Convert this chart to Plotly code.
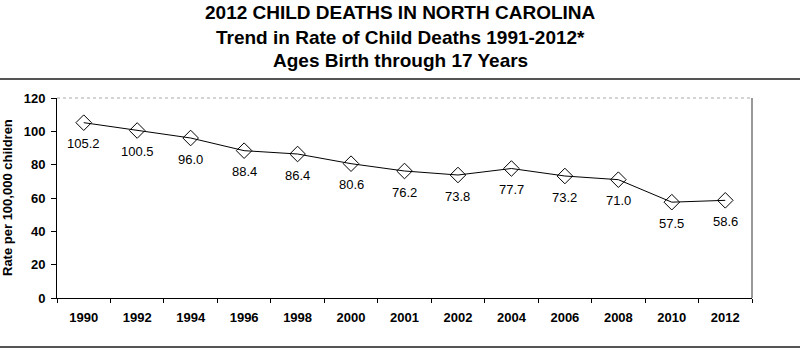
import plotly.graph_objects as go

years = ["1990", "1992", "1994", "1996", "1998", "2000", "2001", "2002", "2004", "2006", "2008", "2010", "2012"]
rates = [105.2, 100.5, 96.0, 88.4, 86.4, 80.6, 76.2, 73.8, 77.7, 73.2, 71.0, 57.5, 58.6]
labels = [f"{v:.1f}" for v in rates]
title_lines = ["2012 CHILD DEATHS IN NORTH CAROLINA",
               "Trend in Rate of Child Deaths 1991-2012*",
               "Ages Birth through 17 Years"]
y_title = "Rate per 100,000 children"

W, H = 800, 352
ML, MR, MT, MB = 57, 48, 98, 54
PW = W - ML - MR
PH = H - MT - MB
FONT = "Liberation Sans, Arial, Helvetica, sans-serif"

fig = go.Figure()
fig.add_trace(go.Scatter(
    x=years, y=rates, mode="lines+markers",
    line=dict(color="black", width=1),
    marker=dict(symbol="diamond-open", size=12, color="black", line=dict(width=1, color="black")),
    hoverinfo="skip", showlegend=False,
))

annotations = []
for i, (v, lab) in enumerate(zip(rates, labels)):
    annotations.append(dict(x=i, y=v, xref="x", yref="y", text=lab, showarrow=False,
                            yshift=-21, font=dict(family=FONT, size=13, color="black")))

title_y_px = [13, 37, 60]
for t, ypx in zip(title_lines, title_y_px):
    annotations.append(dict(x=(W / 2 - ML) / PW, y=(H - MB - ypx) / PH, xref="paper", yref="paper",
                            text=f"<b>{t}</b>", showarrow=False, xanchor="center", yanchor="middle",
                            font=dict(family=FONT, size=19, color="black")))

annotations.append(dict(x=(7 - ML) / PW, y=0.5, xref="paper", yref="paper", text=f"<b>{y_title}</b>",
                        textangle=-90, showarrow=False, xanchor="center", yanchor="middle",
                        font=dict(family=FONT, size=13, color="black")))

def px_y(ypx):
    return (H - MB - ypx) / PH

shapes = [
    dict(type="line", xref="paper", yref="paper", x0=-ML / PW, x1=(W - ML) / PW,
         y0=px_y(79), y1=px_y(79), line=dict(color="#555555", width=2)),
    dict(type="line", xref="paper", yref="paper", x0=-ML / PW, x1=(W - ML) / PW,
         y0=px_y(347), y1=px_y(347), line=dict(color="#555555", width=2)),
    dict(type="line", xref="paper", yref="paper", x0=0, x1=1, y0=1, y1=1,
         line=dict(color="#aaaaaa", width=1, dash="dot")),
    dict(type="line", xref="paper", yref="paper", x0=1, x1=1, y0=0, y1=1,
         line=dict(color="#999999", width=2)),
]

fig.update_layout(
    width=W, height=H,
    margin=dict(l=ML, r=MR, t=MT, b=MB),
    paper_bgcolor="white", plot_bgcolor="white",
    annotations=annotations, shapes=shapes,
    xaxis=dict(type="category", showgrid=False, showline=True, linecolor="black", linewidth=1,
               ticks="outside", tickson="boundaries", ticklen=4, tickcolor="black",
               ticklabelstandoff=7,
               tickfont=dict(family=FONT, size=13, color="black", weight="bold"),
               range=[-0.5, len(years) - 0.5], fixedrange=True),
    yaxis=dict(range=[0, 120], dtick=20, showgrid=False, showline=True, linecolor="black", linewidth=1,
               ticks="outside", ticklen=5, tickcolor="black", zeroline=False,
               ticklabelstandoff=3,
               tickfont=dict(family=FONT, size=13, color="black", weight="bold"), fixedrange=True),
)

fig.write_html("out.html")
